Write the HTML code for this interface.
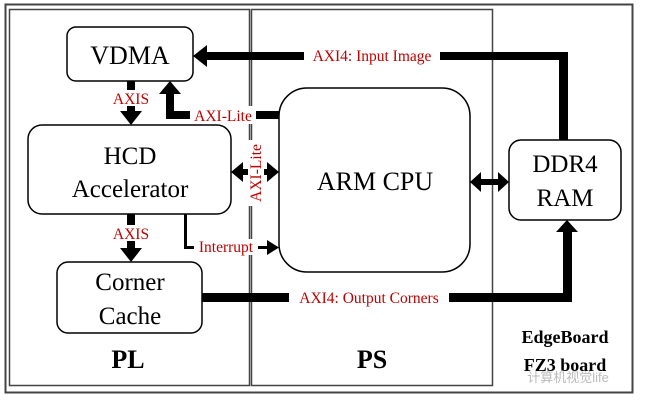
<!DOCTYPE html>
<html><head><style>
body{margin:0;background:#fff;}
</style></head><body>
<svg width="645" height="405" viewBox="0 0 645 405" xmlns="http://www.w3.org/2000/svg" font-family="'Liberation Serif', 'Times New Roman', serif">
<rect x="0" y="0" width="645" height="405" fill="#fff"/>
<rect x="5.5" y="4.5" width="627" height="388" fill="#fff" stroke="#444" stroke-width="2"/>
<rect x="9.5" y="9.5" width="240" height="376" fill="none" stroke="#444" stroke-width="1.5"/>
<rect x="251.5" y="9.5" width="241" height="376" fill="none" stroke="#444" stroke-width="1.5"/>
<g fill="#fff" stroke="#000" stroke-width="1.5">
<rect x="67" y="27" width="126" height="54" rx="9"/>
<rect x="28" y="125" width="203" height="89" rx="14"/>
<rect x="57" y="262" width="145" height="71" rx="11"/>
<rect x="279" y="88" width="191" height="184" rx="28"/>
<rect x="509" y="140" width="112" height="80" rx="12"/>
</g>
<g fill="#000" stroke="none">
<rect x="205" y="52" width="363" height="8"/>
<rect x="559" y="52" width="9" height="88"/>
<polygon points="193,56 207,45 207,67"/>
<rect x="202" y="293" width="370" height="9"/>
<rect x="563" y="230" width="9" height="72"/>
<polygon points="567,220 556,232 578,232"/>
<rect x="166" y="93" width="8" height="26"/>
<rect x="166" y="111" width="113" height="8"/>
<polygon points="170,81 159,94 181,94"/>
<rect x="127" y="81" width="8" height="30"/>
<polygon points="131,125 120,111 142,111"/>
<rect x="127" y="214" width="8" height="34"/>
<polygon points="131,262 120,248 142,248"/>
<rect x="240" y="169" width="30" height="6"/>
<polygon points="231,172 243,162 243,182"/>
<polygon points="279,172 267,162 267,182"/>
<rect x="478" y="179" width="22" height="6"/>
<polygon points="470,182 481,172 481,192"/>
<polygon points="509,182 498,172 498,192"/>
<rect x="184" y="214" width="3" height="35"/>
<rect x="184" y="246" width="84" height="3"/>
<polygon points="279,247.5 267,240 267,255"/>
</g>
<g fill="#c00000" font-size="15.5" font-family="'Liberation Serif', serif">
<rect x="304" y="46" width="136" height="18" fill="#fff"/>
<text x="372" y="61" text-anchor="middle">AXI4: Input Image</text>
<rect x="289" y="288" width="160" height="18" fill="#fff"/>
<text x="369" y="303" text-anchor="middle">AXI4: Output Corners</text>
<rect x="190" y="106" width="66" height="18" fill="#fff"/>
<text x="223" y="121" text-anchor="middle">AXI-Lite</text>
<rect x="108" y="90" width="46" height="16" fill="#fff"/>
<text x="131" y="104" text-anchor="middle">AXIS</text>
<rect x="108" y="225" width="46" height="16" fill="#fff"/>
<text x="131" y="239" text-anchor="middle">AXIS</text>
<rect x="194" y="239" width="64" height="16" fill="#fff"/>
<text x="226" y="252" text-anchor="middle">Interrupt</text>
<rect x="248" y="140" width="16" height="66" fill="#fff"/>
<text transform="translate(261,173) rotate(-90)" text-anchor="middle">AXI-Lite</text>
</g>
<g fill="#000" text-anchor="middle" font-family="'Liberation Serif', serif">
<text x="130" y="64" font-size="26">VDMA</text>
<text x="130" y="164" font-size="25">HCD</text>
<text x="130" y="197" font-size="25">Accelerator</text>
<text x="130" y="290" font-size="25">Corner</text>
<text x="130" y="324" font-size="25">Cache</text>
<text x="375" y="190" font-size="26">ARM CPU</text>
<text x="565" y="172" font-size="25">DDR4</text>
<text x="565" y="206" font-size="25">RAM</text>
<text x="128" y="368" font-size="26" font-weight="bold">PL</text>
<text x="372" y="368" font-size="26" font-weight="bold">PS</text>
<text x="565" y="343" font-size="18" font-weight="bold">EdgeBoard</text>
<text x="565" y="371" font-size="18" font-weight="bold">FZ3 board</text>
</g>
<text x="568" y="382" font-size="13" fill="#bbb" text-anchor="middle" font-family="'Liberation Sans', 'Noto Sans CJK SC', sans-serif">计算机视觉life</text>
</svg>
</body></html>
